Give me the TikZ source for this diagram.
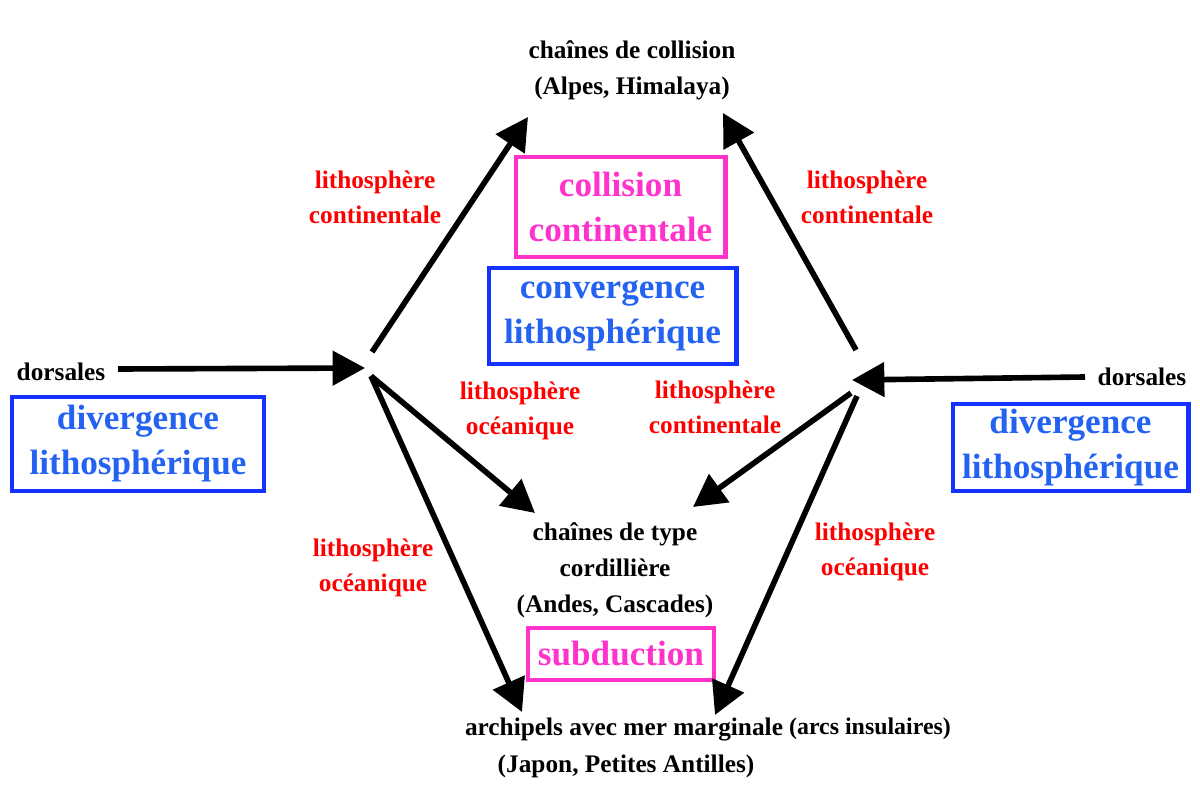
\documentclass[tikz,border=0pt]{standalone}
\usepackage{fontspec}
\setmainfont{Liberation Serif}
\usetikzlibrary{arrows.meta}
\definecolor{magx}{HTML}{FF33CC}
\definecolor{boxblue}{HTML}{1432FF}
\definecolor{txtblue}{HTML}{2462F2}
\definecolor{lblred}{HTML}{FF0000}
\begin{document}
\begin{tikzpicture}[x=0.025cm,y=-0.025cm,
  blk/.style={font=\fontsize{18pt}{25.6pt}\selectfont\bfseries, align=center, inner sep=0pt, text=black},
  redlbl/.style={font=\fontsize{18pt}{25pt}\selectfont\bfseries, align=center, inner sep=0pt, text=lblred},
  bigbox/.style={font=\fontsize{25pt}{32pt}\selectfont\bfseries, align=center, inner sep=0pt, line width=3.5pt},
  bluebox/.style={bigbox, draw=boxblue, text=txtblue},
  magbox/.style={bigbox, draw=magx, text=magx},
  arr/.style={line width=4pt, -{Triangle[length=23pt,width=24pt]}}
]
\useasboundingbox (0,0) rectangle (1200,786);

% black texts
\node[blk] (coll) at (632,70) {chaînes de collision\\(Alpes, Himalaya)};
\node[blk] (dorsL) at (61,372) {dorsales};
\node[blk] (dorsR) at (1142,377) {dorsales};
\node[blk] (cord) at (615,570) {chaînes de type\\cordillière\\(Andes, Cascades)};
\node[blk] (arch) at (624,730) {archipels avec mer marginale};
\node[blk, font=\fontsize{17pt}{20pt}\selectfont\bfseries] (arcs) at (870,729) {(arcs insulaires)};
\node[blk] (jap) at (626,766) {(Japon, Petites Antilles)};

% red labels
\node[redlbl] (r1) at (375,197) {lithosphère\\continentale};
\node[redlbl] (r2) at (867,197) {lithosphère\\continentale};
\node[redlbl] (r3) at (520,411) {lithosphère\\océanique};
\node[redlbl] (r4) at (715,407) {lithosphère\\continentale};
\node[redlbl] (r5) at (373,568) {lithosphère\\océanique};
\node[redlbl] (r6) at (875,552) {lithosphère\\océanique};

% boxes
\node[magbox, minimum width=5.225cm, minimum height=2.5cm] (bcoll) at (620.5,207) {collision\\continentale};
\node[bluebox, minimum width=6.175cm, minimum height=2.4cm] (bconv) at (612.5,316) {convergence\\lithosphérique};
\node[bluebox, minimum width=6.3cm, minimum height=2.35cm] (bdivL) at (138,444) {divergence\\lithosphérique};
\node[bluebox, minimum width=5.875cm, minimum height=2.175cm] (bdivR) at (1070.5,447.5) {divergence\\lithosphérique};
\node[magbox, minimum width=4.65cm, minimum height=1.3cm] (bsub) at (621,654) {subduction};

% junction coordinates
\coordinate (dLs) at (118,369);
\coordinate (jL) at (365,368);
\coordinate (dRs) at (1085,377);
\coordinate (jR) at (852,380);
\coordinate (jLu) at (372,352);
\coordinate (jLd) at (371,376);
\coordinate (jRu) at (856,350);
\coordinate (jRd) at (851,393);
\coordinate (jRd2) at (857,396);
\coordinate (tCL) at (528,117);
\coordinate (tCR) at (723,113);
\coordinate (tDL) at (535,513);
\coordinate (tDR) at (693,507);
\coordinate (tAL) at (522,712);
\coordinate (tAR) at (715,715);

\draw[arr] (dLs) -- (jL);
\draw[arr] (dRs) -- (jR);
\draw[arr] (jLu) -- (tCL);
\draw[arr] (jLd) -- (tDL);
\draw[arr] (jLd) -- (tAL);
\draw[arr] (jRu) -- (tCR);
\draw[arr] (jRd) -- (tDR);
\draw[arr] (jRd2) -- (tAR);
\end{tikzpicture}
\end{document}
